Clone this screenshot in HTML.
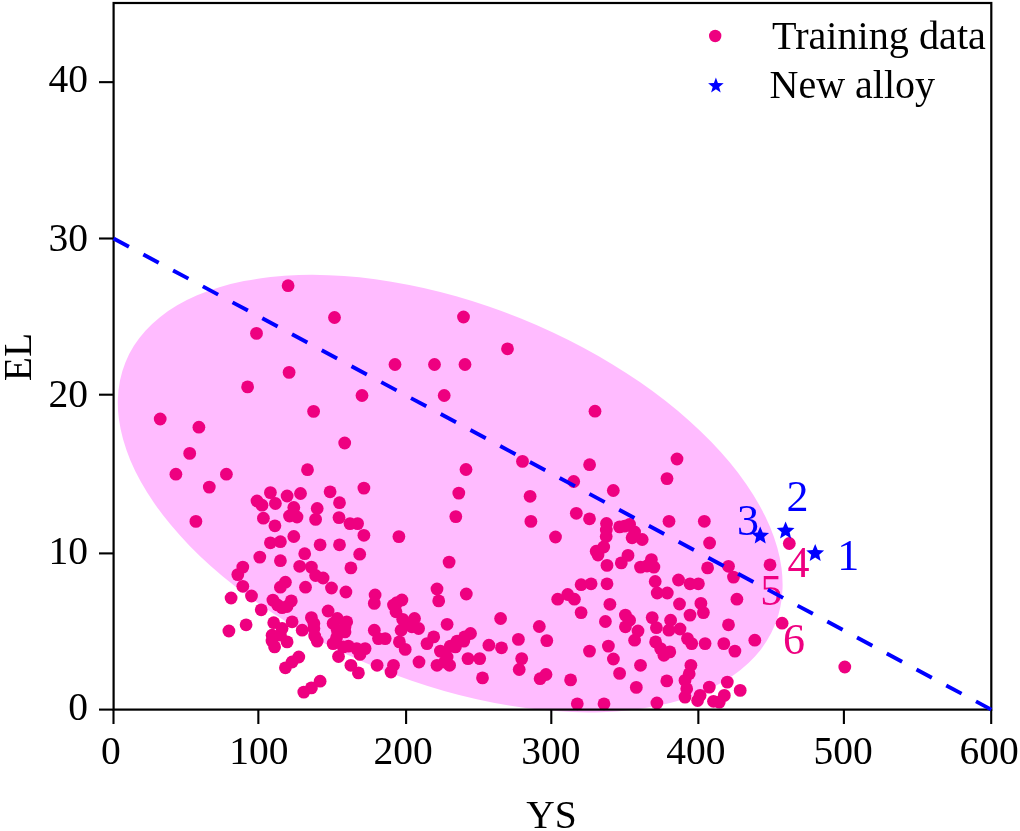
<!DOCTYPE html>
<html><head><meta charset="utf-8"><title>EL vs YS</title>
<style>html,body{margin:0;padding:0;background:#fff;}svg{display:block;filter:blur(0.45px);}text{font-family:"Liberation Serif","Times New Roman",serif;font-size:39.5px;fill:#000;}</style></head><body>
<svg width="1020" height="831" viewBox="0 0 1020 831">
<rect width="1020" height="831" fill="#fff"/>
<ellipse cx="450.2" cy="493.6" rx="350.3" ry="188.8" transform="rotate(22 450.2 493.6)" fill="#FFBBFF"/>
<g fill="#EE0080">
<circle cx="288.1" cy="285.7" r="6.4"/>
<circle cx="334.5" cy="317.5" r="6.4"/>
<circle cx="256.5" cy="333.4" r="6.4"/>
<circle cx="289.1" cy="372.4" r="6.4"/>
<circle cx="247.6" cy="386.9" r="6.4"/>
<circle cx="362.0" cy="395.5" r="6.4"/>
<circle cx="313.6" cy="411.4" r="6.4"/>
<circle cx="160.2" cy="419.0" r="6.4"/>
<circle cx="198.9" cy="427.2" r="6.4"/>
<circle cx="189.7" cy="453.4" r="6.4"/>
<circle cx="344.7" cy="443.0" r="6.4"/>
<circle cx="463.5" cy="317.0" r="6.4"/>
<circle cx="507.5" cy="348.8" r="6.4"/>
<circle cx="395.0" cy="364.5" r="6.4"/>
<circle cx="434.5" cy="364.5" r="6.4"/>
<circle cx="465.0" cy="364.5" r="6.4"/>
<circle cx="444.2" cy="395.5" r="6.4"/>
<circle cx="595.0" cy="411.2" r="6.4"/>
<circle cx="466.0" cy="469.5" r="6.4"/>
<circle cx="522.5" cy="461.4" r="6.4"/>
<circle cx="589.6" cy="464.7" r="6.4"/>
<circle cx="677.0" cy="459.0" r="6.4"/>
<circle cx="667.0" cy="478.6" r="6.4"/>
<circle cx="573.7" cy="481.5" r="6.4"/>
<circle cx="613.3" cy="490.5" r="6.4"/>
<circle cx="576.3" cy="513.3" r="6.4"/>
<circle cx="589.5" cy="518.8" r="6.4"/>
<circle cx="669.0" cy="521.3" r="6.4"/>
<circle cx="704.3" cy="521.3" r="6.4"/>
<circle cx="709.6" cy="543.0" r="6.4"/>
<circle cx="789.3" cy="543.5" r="6.4"/>
<circle cx="770.0" cy="564.8" r="6.4"/>
<circle cx="175.9" cy="474.2" r="6.4"/>
<circle cx="226.4" cy="474.2" r="6.4"/>
<circle cx="209.3" cy="487.1" r="6.4"/>
<circle cx="307.5" cy="469.7" r="6.4"/>
<circle cx="195.9" cy="521.4" r="6.4"/>
<circle cx="270.4" cy="492.6" r="6.4"/>
<circle cx="257.0" cy="501.0" r="6.4"/>
<circle cx="262.0" cy="505.2" r="6.4"/>
<circle cx="275.4" cy="503.5" r="6.4"/>
<circle cx="287.1" cy="496.0" r="6.4"/>
<circle cx="300.5" cy="493.5" r="6.4"/>
<circle cx="330.1" cy="491.8" r="6.4"/>
<circle cx="339.5" cy="502.7" r="6.4"/>
<circle cx="293.8" cy="507.5" r="6.4"/>
<circle cx="289.5" cy="516.0" r="6.4"/>
<circle cx="297.0" cy="517.0" r="6.4"/>
<circle cx="317.2" cy="508.5" r="6.4"/>
<circle cx="315.6" cy="519.4" r="6.4"/>
<circle cx="339.0" cy="517.6" r="6.4"/>
<circle cx="263.4" cy="518.2" r="6.4"/>
<circle cx="274.9" cy="525.8" r="6.4"/>
<circle cx="293.8" cy="536.5" r="6.4"/>
<circle cx="270.4" cy="542.8" r="6.4"/>
<circle cx="280.4" cy="541.7" r="6.4"/>
<circle cx="320.1" cy="544.8" r="6.4"/>
<circle cx="339.5" cy="544.8" r="6.4"/>
<circle cx="259.8" cy="557.1" r="6.4"/>
<circle cx="280.4" cy="560.7" r="6.4"/>
<circle cx="304.7" cy="553.7" r="6.4"/>
<circle cx="299.7" cy="566.3" r="6.4"/>
<circle cx="311.4" cy="567.1" r="6.4"/>
<circle cx="315.6" cy="575.5" r="6.4"/>
<circle cx="323.1" cy="578.0" r="6.4"/>
<circle cx="242.8" cy="567.1" r="6.4"/>
<circle cx="237.8" cy="574.6" r="6.4"/>
<circle cx="242.8" cy="586.3" r="6.4"/>
<circle cx="285.4" cy="582.2" r="6.4"/>
<circle cx="280.4" cy="587.2" r="6.4"/>
<circle cx="305.5" cy="587.2" r="6.4"/>
<circle cx="331.5" cy="588.0" r="6.4"/>
<circle cx="251.5" cy="596.0" r="6.4"/>
<circle cx="231.1" cy="598.0" r="6.4"/>
<circle cx="363.9" cy="488.1" r="6.4"/>
<circle cx="458.8" cy="493.1" r="6.4"/>
<circle cx="455.8" cy="516.6" r="6.4"/>
<circle cx="350.0" cy="523.6" r="6.4"/>
<circle cx="357.6" cy="523.6" r="6.4"/>
<circle cx="363.9" cy="535.3" r="6.4"/>
<circle cx="398.9" cy="536.6" r="6.4"/>
<circle cx="359.7" cy="554.2" r="6.4"/>
<circle cx="350.9" cy="567.9" r="6.4"/>
<circle cx="449.1" cy="562.1" r="6.4"/>
<circle cx="345.9" cy="592.0" r="6.4"/>
<circle cx="375.1" cy="595.0" r="6.4"/>
<circle cx="437.0" cy="589.0" r="6.4"/>
<circle cx="466.3" cy="594.0" r="6.4"/>
<circle cx="261.2" cy="609.8" r="6.4"/>
<circle cx="246.1" cy="624.8" r="6.4"/>
<circle cx="228.9" cy="631.0" r="6.4"/>
<circle cx="272.9" cy="600.1" r="6.4"/>
<circle cx="291.3" cy="600.9" r="6.4"/>
<circle cx="282.1" cy="607.6" r="6.4"/>
<circle cx="273.7" cy="622.7" r="6.4"/>
<circle cx="292.1" cy="621.8" r="6.4"/>
<circle cx="282.1" cy="628.5" r="6.4"/>
<circle cx="272.1" cy="635.2" r="6.4"/>
<circle cx="287.1" cy="641.9" r="6.4"/>
<circle cx="274.6" cy="646.9" r="6.4"/>
<circle cx="311.4" cy="617.6" r="6.4"/>
<circle cx="302.2" cy="630.2" r="6.4"/>
<circle cx="313.9" cy="628.5" r="6.4"/>
<circle cx="317.2" cy="641.1" r="6.4"/>
<circle cx="328.1" cy="611.0" r="6.4"/>
<circle cx="337.3" cy="618.5" r="6.4"/>
<circle cx="337.3" cy="630.2" r="6.4"/>
<circle cx="333.1" cy="643.6" r="6.4"/>
<circle cx="338.5" cy="656.5" r="6.4"/>
<circle cx="298.8" cy="657.0" r="6.4"/>
<circle cx="292.1" cy="662.0" r="6.4"/>
<circle cx="285.4" cy="667.8" r="6.4"/>
<circle cx="320.1" cy="681.2" r="6.4"/>
<circle cx="311.4" cy="687.9" r="6.4"/>
<circle cx="303.8" cy="692.1" r="6.4"/>
<circle cx="374.3" cy="603.4" r="6.4"/>
<circle cx="438.7" cy="600.9" r="6.4"/>
<circle cx="500.6" cy="618.5" r="6.4"/>
<circle cx="396.9" cy="602.6" r="6.4"/>
<circle cx="401.9" cy="600.0" r="6.4"/>
<circle cx="396.0" cy="611.8" r="6.4"/>
<circle cx="402.7" cy="619.3" r="6.4"/>
<circle cx="414.5" cy="618.5" r="6.4"/>
<circle cx="418.6" cy="628.5" r="6.4"/>
<circle cx="401.1" cy="630.2" r="6.4"/>
<circle cx="447.1" cy="624.3" r="6.4"/>
<circle cx="346.7" cy="621.8" r="6.4"/>
<circle cx="345.0" cy="631.9" r="6.4"/>
<circle cx="374.3" cy="630.2" r="6.4"/>
<circle cx="378.5" cy="638.6" r="6.4"/>
<circle cx="385.2" cy="638.6" r="6.4"/>
<circle cx="399.4" cy="641.9" r="6.4"/>
<circle cx="405.2" cy="649.4" r="6.4"/>
<circle cx="433.7" cy="636.9" r="6.4"/>
<circle cx="427.0" cy="643.6" r="6.4"/>
<circle cx="470.5" cy="633.5" r="6.4"/>
<circle cx="464.6" cy="636.9" r="6.4"/>
<circle cx="457.1" cy="641.1" r="6.4"/>
<circle cx="450.4" cy="646.1" r="6.4"/>
<circle cx="440.4" cy="651.1" r="6.4"/>
<circle cx="447.1" cy="657.0" r="6.4"/>
<circle cx="437.0" cy="665.3" r="6.4"/>
<circle cx="449.6" cy="665.3" r="6.4"/>
<circle cx="488.9" cy="645.2" r="6.4"/>
<circle cx="501.5" cy="647.8" r="6.4"/>
<circle cx="468.0" cy="658.6" r="6.4"/>
<circle cx="479.7" cy="658.6" r="6.4"/>
<circle cx="482.5" cy="677.9" r="6.4"/>
<circle cx="419.0" cy="662.0" r="6.4"/>
<circle cx="348.4" cy="646.1" r="6.4"/>
<circle cx="356.7" cy="648.6" r="6.4"/>
<circle cx="365.1" cy="648.6" r="6.4"/>
<circle cx="360.0" cy="654.4" r="6.4"/>
<circle cx="350.9" cy="665.3" r="6.4"/>
<circle cx="358.4" cy="672.9" r="6.4"/>
<circle cx="377.1" cy="665.3" r="6.4"/>
<circle cx="393.5" cy="665.3" r="6.4"/>
<circle cx="391.0" cy="672.0" r="6.4"/>
<circle cx="530.1" cy="496.3" r="6.4"/>
<circle cx="530.9" cy="521.4" r="6.4"/>
<circle cx="555.5" cy="537.0" r="6.4"/>
<circle cx="606.5" cy="523.5" r="6.4"/>
<circle cx="606.3" cy="530.0" r="6.4"/>
<circle cx="606.2" cy="536.5" r="6.4"/>
<circle cx="619.6" cy="526.9" r="6.4"/>
<circle cx="629.6" cy="524.4" r="6.4"/>
<circle cx="634.6" cy="532.0" r="6.4"/>
<circle cx="632.1" cy="537.8" r="6.4"/>
<circle cx="642.2" cy="539.5" r="6.4"/>
<circle cx="596.2" cy="551.2" r="6.4"/>
<circle cx="603.7" cy="547.0" r="6.4"/>
<circle cx="598.0" cy="555.0" r="6.4"/>
<circle cx="628.0" cy="555.4" r="6.4"/>
<circle cx="621.3" cy="562.9" r="6.4"/>
<circle cx="607.0" cy="565.4" r="6.4"/>
<circle cx="651.4" cy="559.6" r="6.4"/>
<circle cx="640.5" cy="567.1" r="6.4"/>
<circle cx="653.9" cy="567.1" r="6.4"/>
<circle cx="655.2" cy="581.5" r="6.4"/>
<circle cx="678.5" cy="580.0" r="6.4"/>
<circle cx="581.1" cy="584.7" r="6.4"/>
<circle cx="591.1" cy="583.8" r="6.4"/>
<circle cx="607.0" cy="583.8" r="6.4"/>
<circle cx="567.7" cy="594.5" r="6.4"/>
<circle cx="657.2" cy="593.0" r="6.4"/>
<circle cx="667.3" cy="593.0" r="6.4"/>
<circle cx="557.7" cy="599.2" r="6.4"/>
<circle cx="574.4" cy="599.2" r="6.4"/>
<circle cx="581.1" cy="612.6" r="6.4"/>
<circle cx="609.9" cy="604.3" r="6.4"/>
<circle cx="605.4" cy="621.5" r="6.4"/>
<circle cx="539.3" cy="626.5" r="6.4"/>
<circle cx="518.4" cy="639.4" r="6.4"/>
<circle cx="546.8" cy="640.6" r="6.4"/>
<circle cx="589.5" cy="651.1" r="6.4"/>
<circle cx="608.4" cy="646.1" r="6.4"/>
<circle cx="613.4" cy="659.0" r="6.4"/>
<circle cx="619.6" cy="673.4" r="6.4"/>
<circle cx="640.5" cy="665.3" r="6.4"/>
<circle cx="636.3" cy="687.4" r="6.4"/>
<circle cx="666.8" cy="680.9" r="6.4"/>
<circle cx="521.7" cy="658.6" r="6.4"/>
<circle cx="519.2" cy="669.5" r="6.4"/>
<circle cx="540.1" cy="678.7" r="6.4"/>
<circle cx="546.0" cy="674.5" r="6.4"/>
<circle cx="570.6" cy="679.9" r="6.4"/>
<circle cx="577.3" cy="703.8" r="6.4"/>
<circle cx="604.0" cy="703.8" r="6.4"/>
<circle cx="656.9" cy="703.0" r="6.4"/>
<circle cx="625.4" cy="615.1" r="6.4"/>
<circle cx="629.6" cy="620.2" r="6.4"/>
<circle cx="625.4" cy="626.8" r="6.4"/>
<circle cx="638.0" cy="631.0" r="6.4"/>
<circle cx="634.6" cy="640.2" r="6.4"/>
<circle cx="652.2" cy="617.6" r="6.4"/>
<circle cx="656.4" cy="627.7" r="6.4"/>
<circle cx="655.6" cy="641.9" r="6.4"/>
<circle cx="660.6" cy="648.6" r="6.4"/>
<circle cx="663.9" cy="655.3" r="6.4"/>
<circle cx="669.8" cy="651.9" r="6.4"/>
<circle cx="670.6" cy="620.2" r="6.4"/>
<circle cx="668.9" cy="630.2" r="6.4"/>
<circle cx="680.0" cy="629.0" r="6.4"/>
<circle cx="679.5" cy="604.0" r="6.4"/>
<circle cx="707.6" cy="567.9" r="6.4"/>
<circle cx="728.5" cy="566.3" r="6.4"/>
<circle cx="733.5" cy="577.1" r="6.4"/>
<circle cx="690.0" cy="583.8" r="6.4"/>
<circle cx="698.4" cy="583.8" r="6.4"/>
<circle cx="736.9" cy="599.2" r="6.4"/>
<circle cx="700.9" cy="603.4" r="6.4"/>
<circle cx="703.4" cy="612.6" r="6.4"/>
<circle cx="690.0" cy="615.1" r="6.4"/>
<circle cx="728.5" cy="624.8" r="6.4"/>
<circle cx="782.1" cy="623.2" r="6.4"/>
<circle cx="754.8" cy="640.2" r="6.4"/>
<circle cx="705.1" cy="643.6" r="6.4"/>
<circle cx="723.8" cy="643.6" r="6.4"/>
<circle cx="734.9" cy="651.1" r="6.4"/>
<circle cx="844.8" cy="667.0" r="6.4"/>
<circle cx="687.5" cy="638.6" r="6.4"/>
<circle cx="691.7" cy="643.6" r="6.4"/>
<circle cx="690.9" cy="665.3" r="6.4"/>
<circle cx="689.2" cy="673.7" r="6.4"/>
<circle cx="685.0" cy="680.4" r="6.4"/>
<circle cx="686.7" cy="688.8" r="6.4"/>
<circle cx="685.0" cy="697.1" r="6.4"/>
<circle cx="709.3" cy="687.1" r="6.4"/>
<circle cx="700.1" cy="695.4" r="6.4"/>
<circle cx="697.6" cy="700.5" r="6.4"/>
<circle cx="727.3" cy="682.1" r="6.4"/>
<circle cx="740.2" cy="690.4" r="6.4"/>
<circle cx="724.3" cy="695.4" r="6.4"/>
<circle cx="713.5" cy="701.3" r="6.4"/>
<circle cx="719.3" cy="702.1" r="6.4"/>
<circle cx="277.5" cy="605.0" r="6.4"/>
<circle cx="287.0" cy="606.5" r="6.4"/>
<circle cx="280.4" cy="635.2" r="6.4"/>
<circle cx="272.0" cy="641.0" r="6.4"/>
<circle cx="313.9" cy="623.5" r="6.4"/>
<circle cx="314.7" cy="636.0" r="6.4"/>
<circle cx="333.1" cy="623.5" r="6.4"/>
<circle cx="336.5" cy="637.7" r="6.4"/>
<circle cx="463.8" cy="641.1" r="6.4"/>
<circle cx="455.4" cy="646.9" r="6.4"/>
<circle cx="444.6" cy="662.0" r="6.4"/>
<circle cx="393.5" cy="605.1" r="6.4"/>
<circle cx="406.9" cy="623.5" r="6.4"/>
<circle cx="411.9" cy="626.8" r="6.4"/>
<circle cx="345.0" cy="626.8" r="6.4"/>
<circle cx="343.3" cy="646.9" r="6.4"/>
<circle cx="624.6" cy="526.1" r="6.4"/>
<circle cx="647.0" cy="566.0" r="6.4"/>
</g>
<g>
<text x="837.2" y="570.4" style="fill:#0000FF;font-size:44px">1</text>
<text x="786.5" y="511.0" style="fill:#0000FF;font-size:44px">2</text>
<text x="737.1" y="535.0" style="fill:#0000FF;font-size:44px">3</text>
<text x="787.5" y="576.7" style="fill:#EE0080;font-size:44px">4</text>
<text x="760.3" y="604.8" style="fill:#EE0080;font-size:44px">5</text>
<text x="783.0" y="654.1" style="fill:#EE0080;font-size:44px">6</text>
</g>
<rect x="113.6" y="3.0" width="877.7" height="706.6" fill="none" stroke="#000" stroke-width="2.2"/>
<g stroke="#000" stroke-width="2.1">
<line x1="113.50" y1="709.6" x2="113.50" y2="724.0"/>
<line x1="258.35" y1="709.6" x2="258.35" y2="724.0"/>
<line x1="406.10" y1="709.6" x2="406.10" y2="724.0"/>
<line x1="551.30" y1="709.6" x2="551.30" y2="724.0"/>
<line x1="698.35" y1="709.6" x2="698.35" y2="724.0"/>
<line x1="843.90" y1="709.6" x2="843.90" y2="724.0"/>
<line x1="991.20" y1="709.6" x2="991.20" y2="724.0"/>
<line x1="99.0" y1="709.60" x2="113.6" y2="709.60"/>
<line x1="99.0" y1="553.40" x2="113.6" y2="553.40"/>
<line x1="99.0" y1="394.70" x2="113.6" y2="394.70"/>
<line x1="99.0" y1="238.50" x2="113.6" y2="238.50"/>
<line x1="99.0" y1="82.15" x2="113.6" y2="82.15"/>
</g>
<line x1="113.6" y1="238.5" x2="991.3" y2="709.6" stroke="#0000FF" stroke-width="3.9" stroke-dasharray="17.4 16.35"/>
<polygon points="760.2,526.4 762.7,532.4 769.1,532.9 764.2,537.1 765.7,543.4 760.2,540.0 754.7,543.4 756.2,537.1 751.3,532.9 757.7,532.4" fill="#0000FF"/>
<polygon points="785.6,521.5 788.1,527.5 794.5,528.0 789.6,532.2 791.1,538.5 785.6,535.1 780.1,538.5 781.6,532.2 776.7,528.0 783.1,527.5" fill="#0000FF"/>
<polygon points="815.2,544.0 817.7,550.0 824.1,550.5 819.2,554.7 820.7,561.0 815.2,557.6 809.7,561.0 811.2,554.7 806.3,550.5 812.7,550.0" fill="#0000FF"/>
<text x="110.9" y="763.5" text-anchor="middle">0</text>
<text x="258.8" y="763.5" text-anchor="middle">100</text>
<text x="403.0" y="763.5" text-anchor="middle">200</text>
<text x="550.9" y="763.5" text-anchor="middle">300</text>
<text x="695.8" y="763.5" text-anchor="middle">400</text>
<text x="843.1" y="763.5" text-anchor="middle">500</text>
<text x="989.0" y="763.5" text-anchor="middle">600</text>
<text x="88" y="720.0" text-anchor="end">0</text>
<text x="88" y="563.6" text-anchor="end">10</text>
<text x="88" y="407.0" text-anchor="end">20</text>
<text x="88" y="250.6" text-anchor="end">30</text>
<text x="88" y="91.8" text-anchor="end">40</text>
<text x="551.5" y="828.2" text-anchor="middle">YS</text>
<text transform="translate(30.6,357) rotate(-90)" text-anchor="middle">EL</text>
<circle cx="715.2" cy="36" r="6.2" fill="#EE0080"/>
<polygon points="715.9,77.6 717.9,83.0 723.7,83.3 719.1,86.9 720.7,92.4 715.9,89.2 711.1,92.4 712.7,86.9 708.1,83.3 713.9,83.0" fill="#0000FF"/>
<text x="772" y="48.5" style="font-size:40.2px">Training data</text>
<text x="769.5" y="98" style="font-size:40px">New alloy</text>
</svg></body></html>
